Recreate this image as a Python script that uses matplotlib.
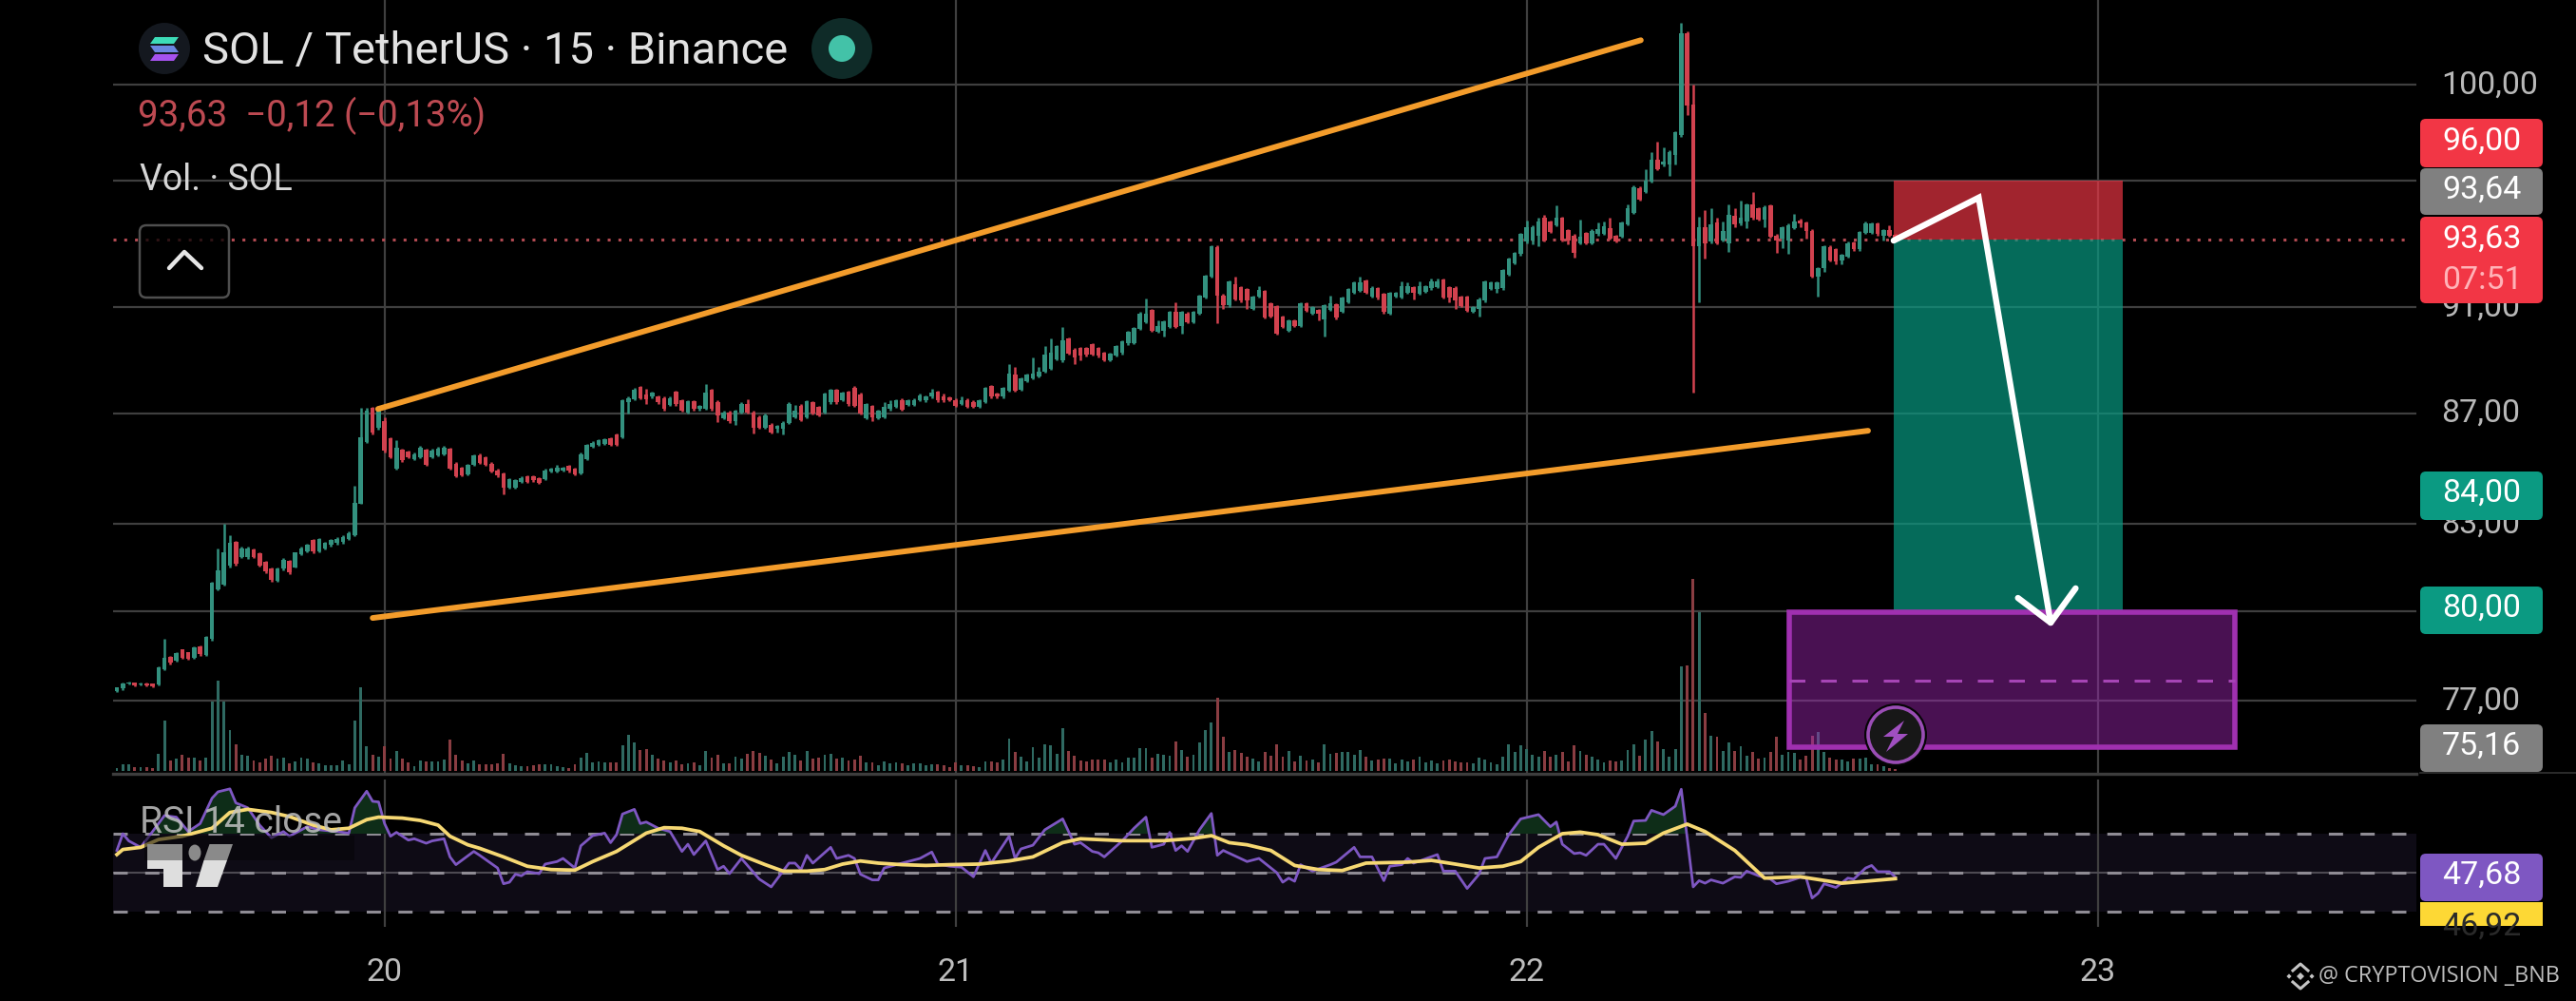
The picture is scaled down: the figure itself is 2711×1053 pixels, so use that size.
import numpy as np
import matplotlib
matplotlib.use("Agg")
import matplotlib.pyplot as plt
from matplotlib.patches import Rectangle, FancyBboxPatch, Circle, Ellipse, Polygon
from matplotlib.ticker import NullLocator, NullFormatter
from matplotlib.transforms import ScaledTranslation

plt.rcParams['font.family'] = ['Roboto', 'DejaVu Sans']

opens = [
77.34,77.42,77.56,77.60,77.54,77.58,77.57,77.54,78.06,78.46,
78.33,78.70,78.60,78.42,78.81,78.52,79.05,80.73,80.90,81.56,
82.38,81.84,81.84,82.11,81.97,81.67,81.45,81.04,81.45,81.72,
81.50,81.94,82.05,82.44,82.05,82.14,82.27,82.33,82.36,82.49,
82.60,83.73,85.95,87.20,86.46,86.69,86.07,84.98,85.67,85.58,
85.32,85.38,85.67,85.38,85.46,85.50,85.69,85.15,85.00,84.78,
85.10,85.46,85.38,85.15,84.92,84.81,84.28,84.30,84.50,84.70,
84.70,84.62,84.60,84.87,84.87,84.92,85.08,84.96,84.80,85.32,
85.76,85.84,85.86,86.06,86.21,86.12,87.39,87.50,87.97,87.68,
87.60,87.62,87.56,87.29,87.80,87.48,87.03,87.44,87.15,87.17,
87.85,87.41,86.80,87.03,86.69,87.03,87.35,87.03,86.86,86.46,
86.58,86.41,86.41,86.64,86.86,87.26,86.86,87.39,87.24,87.03,
87.39,87.85,87.48,87.80,87.94,87.70,86.80,87.25,86.82,86.86,
87.16,87.22,87.49,87.30,87.30,87.49,87.46,87.61,87.78,87.61,
87.58,87.49,87.34,87.49,87.42,87.22,87.42,88.00,87.72,87.61,
87.82,88.42,87.88,88.18,88.30,88.36,88.54,88.66,89.02,88.96,
89.80,89.38,89.44,89.44,89.58,89.44,89.26,88.96,89.14,89.26,
89.62,89.62,90.16,90.40,90.88,90.04,90.10,90.25,90.82,90.28,
90.76,90.40,90.76,91.38,92.19,93.35,91.44,91.06,91.88,91.78,
91.69,90.94,91.40,91.63,91.15,91.02,90.64,90.10,90.50,90.28,
91.15,90.76,90.90,90.52,90.88,91.10,90.82,91.19,91.56,91.63,
92.03,91.40,91.72,91.50,90.76,91.41,91.38,91.56,91.78,91.52,
91.60,91.72,91.78,92.06,91.78,91.75,91.40,91.40,90.82,90.94,
91.25,91.69,91.69,91.72,92.25,92.69,93.06,93.56,93.62,93.81,
94.50,94.35,94.22,94.50,94.02,93.81,93.50,93.89,93.48,93.85,
93.88,94.10,93.78,93.75,94.25,94.72,95.72,95.56,95.98,96.86,
96.66,96.66,97.06,97.88,102.22,99.15,93.38,94.15,93.56,94.31,
93.60,93.50,94.60,94.28,94.38,95.03,94.90,94.44,95.00,93.81,
93.69,93.62,94.08,94.41,94.31,94.00,92.19,92.50,93.35,93.25,
92.81,92.98,93.52,93.25,93.90,93.90,94.28,93.81,94.02,93.84]

highs = [
77.46,77.60,77.64,77.62,77.60,77.60,77.58,78.14,79.06,78.50,
78.60,78.72,78.62,78.80,78.85,79.15,81.00,82.16,83.00,82.60,
82.42,82.20,82.20,82.15,82.00,81.70,81.50,81.50,81.80,81.76,
82.02,82.20,82.32,82.48,82.52,82.38,82.48,82.54,82.60,82.74,
84.35,87.20,87.20,87.22,87.25,86.83,86.10,86.00,85.70,85.62,
85.54,85.80,85.70,85.70,85.75,85.80,85.72,85.20,85.05,85.14,
85.50,85.52,85.42,85.20,84.96,84.85,84.62,84.60,84.70,84.74,
84.74,84.66,84.98,85.00,85.12,85.04,85.12,85.00,85.54,85.88,
85.96,86.04,86.08,86.10,86.25,87.52,87.62,87.94,88.00,87.90,
87.80,87.66,87.62,87.62,87.84,87.52,87.48,87.48,87.30,88.09,
87.90,87.46,87.08,87.08,87.14,87.40,87.50,87.08,86.90,86.98,
86.62,86.58,86.70,87.40,87.30,87.35,87.48,87.44,87.28,87.76,
87.90,87.90,87.80,87.84,88.00,87.74,87.38,87.30,87.14,87.40,
87.46,87.52,87.54,87.50,87.54,87.72,87.66,87.90,87.82,87.72,
87.62,87.54,87.61,87.54,87.46,87.50,87.98,88.04,87.76,87.98,
88.84,88.72,88.34,88.46,89.08,88.72,89.50,89.80,89.55,90.25,
89.85,89.42,89.48,89.48,89.62,89.48,89.30,89.26,89.56,89.72,
90.08,90.22,90.80,91.34,90.92,90.50,90.50,90.86,91.20,90.84,
90.80,90.86,91.48,92.26,93.42,93.40,91.50,92.04,92.19,91.82,
91.73,91.44,91.80,91.68,91.20,91.06,90.68,90.54,90.54,91.20,
91.20,91.04,90.94,91.10,91.44,91.14,91.42,91.74,91.98,92.19,
92.08,91.80,91.76,91.56,91.60,91.60,91.98,91.97,91.82,92.00,
91.85,92.10,92.10,92.10,91.82,91.80,91.44,91.44,91.04,91.36,
92.04,91.98,91.98,92.48,92.92,93.14,93.92,94.40,94.22,94.52,
94.62,94.40,95.00,94.55,94.06,93.85,94.44,93.94,94.05,94.31,
94.35,94.50,93.82,94.36,95.06,95.80,95.78,96.46,97.16,97.62,
97.39,97.24,98.06,102.65,102.30,100.00,94.56,94.81,94.88,94.52,
94.35,95.06,94.88,95.19,95.08,95.56,94.95,95.00,95.05,93.86,
94.18,94.28,94.65,94.46,94.36,94.05,92.55,93.42,93.40,93.30,
93.08,93.55,93.58,93.98,94.38,94.32,94.33,94.06,94.22,93.88]

lows = [
77.28,77.36,77.54,77.48,77.52,77.48,77.44,77.52,78.02,78.20,
78.30,78.38,78.36,78.38,78.50,78.48,79.00,80.70,80.85,81.50,
81.55,81.80,81.78,81.80,81.52,81.30,81.00,80.98,81.40,81.25,
81.48,81.90,82.00,81.98,82.00,82.10,82.22,82.28,82.32,82.45,
82.56,83.70,85.90,86.20,86.40,85.55,85.35,84.95,85.20,85.34,
85.28,85.34,85.06,85.34,85.42,85.46,84.94,84.66,84.70,84.74,
85.06,85.15,85.06,84.82,84.68,84.07,84.24,84.26,84.45,84.46,
84.50,84.42,84.56,84.82,84.84,84.88,84.85,84.74,84.76,85.28,
85.72,85.80,85.82,85.80,85.80,86.08,87.00,87.46,87.50,87.33,
87.55,87.35,87.10,87.25,87.28,87.05,87.00,87.10,87.10,87.13,
87.10,86.67,86.76,86.64,86.56,87.00,87.00,86.24,86.42,86.42,
86.25,86.30,86.21,86.60,86.82,86.70,86.82,86.94,86.88,87.00,
87.35,87.35,87.44,87.28,87.24,86.94,86.76,86.70,86.78,86.82,
87.10,87.18,87.08,87.26,87.26,87.44,87.42,87.56,87.42,87.42,
87.45,87.24,87.30,87.18,87.18,87.18,87.38,87.56,87.56,87.56,
87.78,87.78,87.84,88.14,88.26,88.32,88.50,88.62,88.98,88.90,
89.18,88.84,88.96,89.12,89.16,89.08,88.92,88.92,89.10,89.20,
89.56,89.58,90.12,90.36,90.06,90.00,89.86,90.20,90.20,89.98,
90.36,90.36,90.72,91.34,92.15,90.38,90.94,91.00,91.26,91.20,
90.94,90.90,91.36,90.56,90.60,89.94,90.18,90.06,90.24,90.24,
90.82,90.72,90.50,89.86,90.84,90.54,90.78,91.14,91.52,91.58,
91.50,91.36,91.30,90.76,90.72,91.36,91.34,91.52,91.28,91.48,
91.56,91.68,91.74,91.34,91.19,90.92,91.00,90.82,90.78,90.64,
91.20,91.65,91.56,91.68,92.20,92.65,93.02,93.50,93.46,93.38,
93.58,93.90,94.18,93.58,93.44,92.94,93.46,93.44,93.44,93.80,
93.84,93.65,93.52,93.70,94.20,94.68,95.20,95.52,95.94,96.42,
96.60,96.20,96.69,97.82,98.71,87.75,91.19,92.90,93.50,93.45,
93.55,93.15,94.12,94.22,94.10,94.45,94.40,94.15,93.70,93.12,
93.31,93.06,94.04,94.12,93.69,92.14,91.40,92.38,92.76,92.65,
92.65,92.94,93.20,93.20,93.85,93.85,93.80,93.62,93.76,93.60]

closes = [
77.44,77.58,77.62,77.50,77.58,77.50,77.47,78.10,78.43,78.28,
78.58,78.42,78.40,78.76,78.55,79.11,80.96,81.39,82.00,82.33,
81.61,82.16,82.16,81.84,81.56,81.34,81.06,81.45,81.75,81.31,
82.00,82.16,82.27,82.03,82.49,82.33,82.44,82.49,82.55,82.69,
83.75,86.12,87.09,86.29,87.15,85.61,85.38,85.72,85.27,85.38,
85.50,85.72,85.10,85.64,85.69,85.72,84.98,84.70,84.75,85.10,
85.44,85.19,85.10,84.87,84.73,84.30,84.58,84.55,84.64,84.50,
84.55,84.47,84.92,84.96,85.01,85.01,84.89,84.78,85.50,85.84,
85.92,85.99,86.03,85.84,85.84,87.48,87.56,87.88,87.53,87.50,
87.76,87.39,87.15,87.56,87.33,87.09,87.44,87.15,87.27,87.74,
87.15,86.92,87.03,86.69,87.09,87.35,87.03,86.46,86.46,86.92,
86.29,86.52,86.64,87.35,87.09,86.75,87.44,86.98,86.92,87.71,
87.85,87.39,87.74,87.33,87.28,86.98,87.34,86.86,87.10,87.22,
87.34,87.46,87.13,87.46,87.49,87.66,87.61,87.76,87.46,87.46,
87.49,87.28,87.46,87.22,87.22,87.46,87.94,87.61,87.61,87.94,
88.48,87.82,88.30,88.42,88.48,88.54,89.20,89.26,89.50,89.74,
89.22,89.08,89.14,89.17,89.20,89.14,88.96,89.22,89.52,89.68,
90.04,90.18,90.76,90.76,90.10,90.28,90.46,90.82,90.25,90.80,
90.40,90.82,91.44,92.22,93.38,91.44,91.06,92.00,91.31,91.25,
91.25,91.40,91.65,90.60,90.64,89.98,90.22,90.50,90.28,91.15,
90.86,91.00,90.76,91.06,91.13,90.58,91.38,91.69,91.94,91.97,
91.56,91.75,91.35,90.80,91.56,91.56,91.81,91.81,91.56,91.81,
91.81,92.00,92.00,91.38,91.38,91.25,91.04,90.86,91.00,91.31,
92.00,91.94,91.94,92.44,92.88,93.10,93.88,94.12,94.12,94.38,
93.62,93.94,94.50,93.62,93.62,93.12,93.74,93.48,94.00,94.06,
94.19,93.69,93.56,94.31,94.88,95.75,95.25,96.00,96.86,96.46,
96.79,97.19,98.01,102.20,99.11,93.38,94.12,93.50,94.25,93.50,
93.98,94.62,94.25,94.50,95.03,94.50,94.44,94.94,93.75,93.62,
94.12,94.22,94.38,94.28,94.00,92.19,92.50,93.38,92.81,92.78,
93.03,93.50,93.25,93.94,94.28,94.28,93.85,94.02,93.81,93.63]

volumes = [
10,20,20,12,12,12,8,55,160,32,
40,50,42,42,32,42,220,284,220,130,
85,50,48,32,26,38,48,38,42,24,
30,42,38,28,24,18,18,18,32,22,
160,264,78,50,45,78,38,62,38,28,
14,34,30,30,30,36,98,50,34,24,
32,22,22,22,24,54,24,18,15,14,
18,20,20,20,16,12,10,22,42,58,
26,30,26,26,26,80,115,90,65,70,
52,38,32,28,32,22,24,28,18,62,
42,52,24,24,44,38,55,64,58,48,
36,24,44,60,52,34,64,38,42,50,
54,40,42,33,37,48,27,27,18,30,
24,27,25,18,25,24,18,20,22,18,
12,27,18,18,15,12,30,30,27,37,
102,60,45,30,75,42,85,80,55,135,
63,48,33,30,36,36,36,27,36,27,
42,42,72,72,42,54,50,48,93,66,
45,50,90,128,152,230,108,60,65,57,
45,38,30,60,48,85,45,63,30,48,
33,36,27,85,54,57,60,60,50,65,
45,33,36,39,39,24,36,30,36,45,
27,33,25,33,36,30,27,27,24,42,
36,27,20,45,85,60,80,70,50,45,
63,45,50,60,30,80,63,50,45,36,
27,33,30,32,65,85,48,98,125,92,
68,45,68,330,333,605,500,182,110,108,
62,90,62,78,48,60,38,42,60,108,
52,60,58,35,48,110,122,60,42,36,
36,30,38,38,42,22,22,14,8,5]

rsi_bars = [0,1,2,4,5,8,10,12,14,16,17,19,20,22,24,26,28,29,31,32,34,37,39,40,42,43,44,45,46,47,49,50,52,53,55,56,57,60,61,64,65,66,67,68,69,71,72,74,75,77,78,80,82,83,84,85,87,88,89,91,93,95,96,97,99,101,102,103,105,108,110,113,114,115,116,117,120,121,123,124,125,127,128,129,132,135,137,138,
140,142,144,146,147,150,151,152,154,156,159,161,162,164,165,166,169,171,173,174,176,177,178,179,180,182,184,185,186,190,192,195,196,197,198,199,201,204,205,208,209,211,213,214,216,217,218,222,223,225,227,229,230,232,234,236,239,241,242,243,245,246,247,249,250,252,254,255,257,258,260,262,263,265,266,267,268,270,272,273,274,276,278,279,281,283,284,285,286,287,289,291,292,294,295,296,298,299]
rsi_values = [61.4,70,66.3,63,67,79.3,78.5,71.1,75.2,88.2,91.5,93,85.8,83.3,74.4,67.9,71.1,68.7,72,73.6,72,71.1,70.3,83.3,91.8,86.6,86.3,75.2,68.7,70.7,66.7,67.4,65.1,66.3,67.4,58.1,54.1,60.9,58.9,52.4,44.3,45.1,49.2,48.4,50.5,49.5,54.4,55.7,57.3,52.4,63.8,69,70.3,65.4,69.5,80.1,82.5,75.2,76,72.8,71.1,60.9,64.6,59.3,66.3,51.6,53.3,49.5,57.3,46.7,42.7,54.9,54.9,51.6,58.9,54.9,63,57.3,58.9,57.3,49.2,46.3,46.3,52.4,54.9,57.3,60.6,54.4,
53.3,52.8,47.9,61.4,54.9,68.7,57.3,62.2,64.1,72,77.6,64.6,65.4,60.9,60.2,58.1,66.3,72.8,78.5,63,64.6,70.7,61.4,63.8,60.9,72,80.4,58.9,61.4,55.7,57.3,50,45.1,47.2,45.6,54.1,50.8,54.1,55.4,63,58.1,58.1,45.9,53.3,54.1,57.3,54.9,59.3,50.8,50.8,41.9,49.2,57.3,58.1,69.5,77.6,79.8,73.6,76,64.6,59.8,60.2,58.9,64.6,64.6,57.3,68.7,76.5,76.8,82,79.8,84.1,92.8,42.7,45.9,44.6,46.3,44.6,47.9,47.6,50.8,48.4,46.7,44.3,45.6,47.6,47.2,37,39.4,44.3,42.4,47.2,46.7,52.4,53.7,50.5,50.5,47.68]

ma_bars = [0,1,4,7,11,16,19,22,26,29,33,36,39,42,44,48,51,54,56,59,61,65,69,73,77,80,84,89,92,95,98,102,105,109,112,116,119,122,125,128,132,136,140,145,150,154,159,162,169,176,181,184,187,190,194,198,202,206,210,217,221,225,229,233,236,239,243,246,249,253,257,260,264,267,272,277,283,290,294,299]
ma_values = [59.3,61.9,63,67,68.7,72.8,80.9,82.5,80.9,78.8,74.4,72,72.8,77.2,78.5,78,76.8,74.4,68.7,64.3,62.5,58.1,53.3,51.6,51.3,55.7,60.9,70.3,73.1,72.8,71.1,63.8,58.9,54.1,50.8,50.8,51.6,54.4,56,54.9,54.1,53.7,54.1,54.4,56,58.1,65.4,67.4,66.4,66.4,67.6,69,65.4,64.3,61.4,53.7,51.6,51.1,54.9,55.4,56.3,54.4,52.4,53.3,55.7,63,70,70.8,69.5,64.6,65.1,70.3,74.9,71.1,61.4,47.2,47.9,44.6,45.6,46.92]

price_ticks = [100, 96, 91, 87, 83, 80, 77]
price_tick_labels = ['100,00', '', '91,00', '87,00', '83,00', '', '77,00']
day_ticks = [45, 141, 237, 333]
day_labels = ['20', '21', '22', '23']
last_price = 93.63

upper_bars = [43.9, 256.2]
upper_prices = [87.15, 101.9]
lower_bars = [43.0, 294.4]
lower_prices = [79.76, 86.35]

pos_bars = [298.7, 337.2]
pos_stop, pos_entry, pos_target = 96.0, 93.64, 80.0
zone_bars = [281.1, 356.0]
zone_low, zone_mid, zone_high = 75.5, 77.66, 79.94

arrow_bars = [298.7, 313.0, 325.1]
arrow_prices = [93.6, 95.32, 79.6]
head_bars = [319.6, 325.1, 329.3]
head_prices = [80.44, 79.6, 80.77]

W, H = 2711, 1053
fig = plt.figure(figsize=(W/100, H/100), dpi=100, facecolor='black')

def axes_px(x0, y0, x1, y1, **kw):
    return fig.add_axes([x0/W, 1-y1/H, (x1-x0)/W, (y1-y0)/H], **kw)

X0, X1 = 119, 2543
xlim = ((X0-123)/6.26, (X1-123)/6.26)
GRID = '#3f3f3f'
UP, DOWN = '#33917f', '#d2424f'
VUP, VDOWN = '#2f6a62', '#8a3d42'

# ---------------- price pane
ax = axes_px(X0, 0, X1, 814, facecolor='black')
ax.set_yscale('log')
ax.set_xlim(*xlim)
ax.set_ylim(100*np.exp(-725/2481), 100*np.exp(89/2481))
for s in ax.spines.values():
    s.set_visible(False)
ax.yaxis.set_minor_locator(NullLocator())
ax.yaxis.set_minor_formatter(NullFormatter())
ax.set_yticks(price_ticks)
ax.set_yticklabels(price_tick_labels)
ax.yaxis.tick_right()
ax.tick_params(axis='y', length=0, pad=19, labelsize=24.5, labelcolor='#b8b8b8')
for lab in ax.get_yticklabels():
    lab.set_transform(lab.get_transform() + ScaledTranslation(0, 3/100, fig.dpi_scale_trans))
ax.set_xticks(day_ticks)
ax.tick_params(axis='x', length=0, labelbottom=False)
ax.grid(True, color=GRID, lw=1.6, zorder=0)
ax.set_axisbelow(True)

x = np.arange(len(closes))
o, h, l, c = map(np.array, (opens, highs, lows, closes))
up = c >= o
colors = np.where(up, UP, DOWN)

# volume overlay
axv = axes_px(X0, 0, X1, 811)
axv.patch.set_visible(False)
axv.set_xlim(*xlim)
axv.set_ylim(0, 811*3)
axv.axis('off')
axv.bar(x, volumes, width=0.46, color=np.where(up, VUP, VDOWN), linewidth=0)
axv.set_zorder(ax.get_zorder()+1)

# candles in a pane above volumes
axc = axes_px(X0, 0, X1, 814)
axc.patch.set_visible(False)
axc.set_yscale('log')
axc.set_xlim(*xlim)
axc.set_ylim(ax.get_ylim())
axc.axis('off')
axc.set_zorder(axv.get_zorder()+1)

axc.hlines(last_price, xlim[0], xlim[1]-1.3, color='#b24a52', lw=2.2,
           linestyles=(0, (1.0, 2.7)), zorder=1)
axc.vlines(x, l, h, color=colors, lw=1.8, zorder=2)
axc.bar(x, np.abs(c-o), bottom=np.minimum(o, c), width=0.74, color=colors, linewidth=0, zorder=3)

axc.add_patch(Rectangle((pos_bars[0], pos_entry), pos_bars[1]-pos_bars[0], pos_stop-pos_entry,
                        facecolor='#f23645', alpha=0.67, lw=0, zorder=4))
axc.add_patch(Rectangle((pos_bars[0], pos_target), pos_bars[1]-pos_bars[0], pos_entry-pos_target,
                        facecolor='#089981', alpha=0.70, lw=0, zorder=4))
axc.add_patch(Rectangle((zone_bars[0], zone_low), zone_bars[1]-zone_bars[0], zone_high-zone_low,
                        facecolor=(0.61, 0.15, 0.69, 0.47), edgecolor='#a030b0', lw=4.0, zorder=5))
axc.hlines(zone_mid, zone_bars[0], zone_bars[1], color='#a645b5', lw=2.2,
           linestyles=(0, (5.4, 5.4)), zorder=5)

axc.plot(upper_bars, upper_prices, color='#f39c2b', lw=4.3, solid_capstyle='round', zorder=6)
axc.plot(lower_bars, lower_prices, color='#f39c2b', lw=4.3, solid_capstyle='round', zorder=6)
axc.plot(arrow_bars, arrow_prices, color='white', lw=4.6, solid_joinstyle='miter',
         solid_capstyle='round', zorder=7)
axc.plot(head_bars, head_prices, color='white', lw=4.6, solid_capstyle='round', zorder=7)

# ---------------- RSI pane
axr = axes_px(X0, 820, X1, 975, facecolor='black')
axr.set_xlim(*xlim)
axr.set_ylim(50-(975-918)/2.05, 50+(918-820)/2.05)
for s in axr.spines.values():
    s.set_visible(False)
axr.set_yticks([])
axr.set_xticks(day_ticks)
axr.set_xticklabels(day_labels)
axr.tick_params(axis='x', length=0, pad=23, labelsize=24.5, labelcolor='#bdbdbd')
axr.grid(True, axis='x', color=GRID, lw=1.6, zorder=0)
axr.set_axisbelow(True)
axr.axhspan(30, 70, facecolor='#0e0b15', lw=0, zorder=0.5)
axr.axhline(50, color='#4d4a52', lw=1.5, zorder=1)
for lv in (30, 50, 70):
    axr.axhline(lv, color='#8f8c94', lw=2.2, linestyle=(0, (4.9, 6.0)), zorder=1.2)
rb, rv = np.array(rsi_bars), np.array(rsi_values)
axr.fill_between(rb, rv, 70, where=rv >= 70, interpolate=True, color='#0e2d18', lw=0, zorder=1.5)
axr.plot(rsi_bars, rsi_values, color='#7e57c2', lw=2.0, zorder=2)
axr.plot(ma_bars, ma_values, color='#f6d873', lw=2.7, zorder=3)

# ---------------- overlay in pixel space: header, labels, badges
ov = fig.add_axes([0, 0, 1, 1])
ov.patch.set_visible(False)
ov.set_xlim(0, W)
ov.set_ylim(H, 0)
ov.axis('off')
ov.set_zorder(axc.get_zorder()+5)

ov.plot([X0, X1], [814, 814], color='#3d3d3d', lw=2.4, zorder=1)
ov.plot([2547, W], [813, 813], color='#333333', lw=1.2, zorder=1)

# header
ov.add_patch(Circle((173, 51), 27, facecolor='#14181f', lw=0))
for (yy, col) in ((39, '#3ddcb8'), (48, '#6a86e0'), (57, '#a552ee')):
    if yy == 48:
        pts = [(158, yy), (183, yy), (188, yy+7), (163, yy+7)]
    else:
        pts = [(163, yy), (188, yy), (183, yy+7), (158, yy+7)]
    ov.add_patch(Polygon(pts, closed=True, facecolor=col, lw=0))
ov.text(213, 54, 'SOL / TetherUS · 15 · Binance', fontsize=34, color='#e2e2e2', va='center', ha='left')
ov.add_patch(Circle((886, 51), 32, facecolor='#0f2b28', lw=0))
ov.add_patch(Circle((886, 51), 14, facecolor='#43c2a8', lw=0))
ov.text(145, 122, '93,63  −0,12 (−0,13%)', fontsize=27.7, color='#bd4a52', va='center', ha='left')
ov.text(147, 190, 'Vol. · SOL', fontsize=27, color='#d6d6d6', va='center', ha='left')
ov.add_patch(FancyBboxPatch((147, 237), 94, 76, boxstyle='round,pad=0,rounding_size=7',
                            facecolor=(0, 0, 0, 0.75), edgecolor='#4f4f4f', lw=1.8))
ov.plot([178, 194, 212], [282, 265, 282], color='#e6e6e6', lw=3.2, solid_capstyle='round')

# price badges
def badge(y0, y1, col, lines, tcol='white', rounding=6):
    ov.add_patch(FancyBboxPatch((2547, y0), 129, y1-y0,
                                boxstyle=f'round,pad=0,rounding_size={rounding}',
                                facecolor=col, lw=0, zorder=3))
    for (ty, s, c_) in lines:
        ov.text(2570, ty, s, fontsize=24.5, color=c_ or tcol, va='center', ha='left', zorder=4)

badge(125, 176, '#f23645', [(149, '96,00', None)])
badge(177, 226, '#808080', [(200, '93,64', None)])
badge(228, 319, '#f23645', [(252, '93,63', None), (295, '07:51', '#ffb3b8')])
badge(496, 547, '#0b9a82', [(519, '84,00', None)])
badge(617, 667, '#0b9a82', [(640, '80,00', None)])
badge(762, 812, '#808080', [(785, '75,16', None)])
badge(898, 948, '#7e57c2', [(921, '47,68', None)])
ov.add_patch(Rectangle((2547, 949), 129, 25, facecolor='#fdd835', lw=0, zorder=3))
clipper = Rectangle((2547, 949), 129, 25, transform=ov.transData, fill=False, lw=0)
ov.add_patch(clipper)
t46 = ov.text(2570, 975, '46,92', fontsize=24.5, color='#2a2a2a', va='center', ha='left', zorder=4)
t46.set_clip_path(clipper)

# RSI legend and TV logo
ov.add_patch(Rectangle((152, 879), 221, 26, facecolor=(0.02, 0.02, 0.03, 0.55), lw=0, zorder=1))
ov.text(147, 866, 'RSI 14 close', fontsize=28, color='#c2c2c2', va='center', ha='left', alpha=0.85, zorder=2)
ov.add_patch(Polygon([(155, 888), (192, 888), (192, 905), (155, 905)], facecolor='#8a8a8a', lw=0, zorder=2))
ov.add_patch(Polygon([(155, 905), (192, 905), (192, 933), (172, 933), (172, 914), (155, 914)],
                     facecolor='#dedede', lw=0, zorder=2))
ov.add_patch(Ellipse((205, 897), 13, 17, facecolor='#8a8a8a', lw=0, zorder=2))
ov.add_patch(Polygon([(220.5, 888), (245, 888), (239, 905), (214.5, 905)], facecolor='#8a8a8a', lw=0, zorder=2))
ov.add_patch(Polygon([(214.5, 905), (239, 905), (229, 933), (206, 933)], facecolor='#dedede', lw=0, zorder=2))

# alert bubble on zone
ov.add_patch(Circle((1995, 773), 33, facecolor='#050505', lw=0, zorder=2))
ov.add_patch(Circle((1995, 773), 29, facecolor='#171717', edgecolor='#9a4db5', lw=2.6, zorder=3))
ov.add_patch(Polygon([(2004, 758), (1982, 775), (1993, 775), (1985, 791), (2008, 772), (1997, 772)],
                     closed=True, facecolor='#a04fc0', lw=0, zorder=4))

# watermark
ov.text(2440, 1027, '@ CRYPTOVISION _BNB', fontsize=16.8, color='#bcbcbc', va='center', ha='left',
        family=['Open Sans', 'DejaVu Sans'])
cx, cy = 2421, 1027
for dx, dy, r in ((0, 0, 4), (-12, 0, 2.6), (12, 0, 2.6)):
    ov.add_patch(Polygon([(cx+dx-r, cy+dy), (cx+dx, cy+dy-r), (cx+dx+r, cy+dy), (cx+dx, cy+dy+r)],
                         facecolor='#c4c4c4', lw=0))
ov.plot([cx-8, cx, cx+8], [cy-6, cy-13, cy-6], color='#c4c4c4', lw=2.2)
ov.plot([cx-8, cx, cx+8], [cy+6, cy+13, cy+6], color='#c4c4c4', lw=2.2)

fig.savefig('out.png', dpi=100, facecolor='black')
